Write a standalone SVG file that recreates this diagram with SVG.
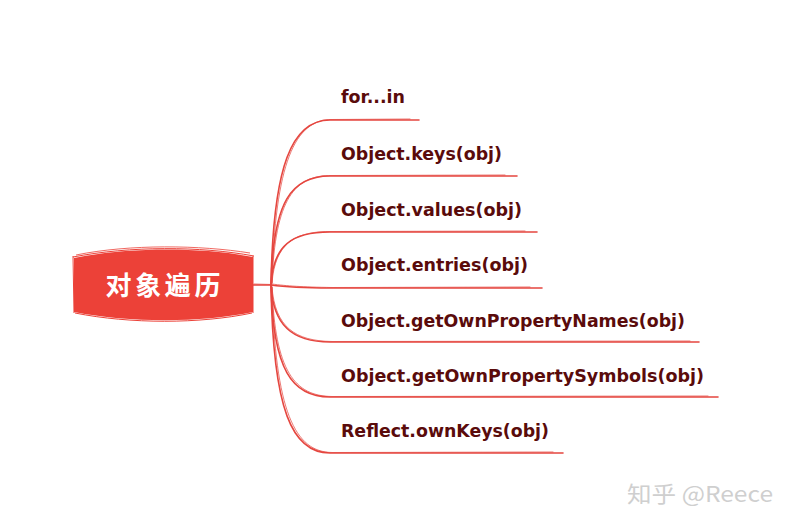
<svg xmlns="http://www.w3.org/2000/svg" width="793" height="528" viewBox="0 0 793 528">
<style>
.ln{fill:none;stroke:#e5463f;stroke-width:1.6;stroke-linecap:round}
.ln2{fill:none;stroke:#e5463f;stroke-width:0.9;stroke-linecap:round;opacity:0.8}
.lbl{font-family:"DejaVu Sans","Liberation Sans",sans-serif;font-weight:bold;font-size:18.5px;fill:#5a0b0b}
.root{font-family:"Noto Sans CJK SC","Noto Sans",sans-serif;font-weight:bold;font-size:26px;fill:#ffffff}
.wm{font-family:"Noto Sans CJK SC","Liberation Sans",sans-serif;font-size:22px;fill:#cfcfcf}
</style>
<rect width="793" height="528" fill="#ffffff"/>
<g id="connectors">
<path class="ln" d="M253,285 L271,285"/>
<path class="ln2" d="M254,284 L272,284.5"/>
<path class="ln" d="M271,285 C273,165 292,120 330,120 L419,120"/>
<path class="ln2" d="M272,283 C275,163 295,119 332,119.5 L410,119"/>
<path class="ln" d="M271,285 C273,200 292,176 330,176 L517,176"/>
<path class="ln2" d="M272,283 C275,198 295,175 332,175.5 L505,175"/>
<path class="ln" d="M271,285 C273,245 292,232 330,232 L537,232"/>
<path class="ln2" d="M272,283 C275,243 295,231 332,231.5 L525,231"/>
<path class="ln" d="M271,285 C285,287 300,288 330,288 L542,288"/>
<path class="ln2" d="M272,284 C287,286 302,287 332,287.5 L530,287"/>
<path class="ln" d="M271,285 C273,325 292,342 330,342 L699,342"/>
<path class="ln2" d="M272,287 C275,327 295,341 332,341.5 L690,341"/>
<path class="ln" d="M271,285 C273,370 292,397 330,397 L718,397"/>
<path class="ln2" d="M272,287 C275,372 295,396 332,396.5 L708,396"/>
<path class="ln" d="M271,285 C273,410 292,453 330,453 L563,453"/>
<path class="ln2" d="M272,287 C275,412 295,452 332,452.5 L553,452"/>
</g>
<g id="root">
<path d="M74,258 C130,247 200,247 253,257 L253,312 C200,323 130,323 74,312 Z" fill="#ec4138"/>
<path d="M73,257 C130,246 200,246 254,256 M75,313 C130,324 200,324 252,313 M73,256 L74,313 M253,256 L253,313" fill="none" stroke="#ec4138" stroke-width="1"/>
<path d="M76,255 C130,244 200,245 250,253" fill="none" stroke="#ec4138" stroke-width="0.8"/>
<text class="root" x="163" y="295" text-anchor="middle" textLength="115" lengthAdjust="spacing">对象遍历</text>
</g>
<g id="n1"><text class="lbl" x="341" y="103" textLength="64" lengthAdjust="spacingAndGlyphs">for...in</text></g>
<g id="n2"><text class="lbl" x="341" y="160" textLength="161" lengthAdjust="spacingAndGlyphs">Object.keys(obj)</text></g>
<g id="n3"><text class="lbl" x="341" y="216" textLength="181" lengthAdjust="spacingAndGlyphs">Object.values(obj)</text></g>
<g id="n4"><text class="lbl" x="341" y="271" textLength="187" lengthAdjust="spacingAndGlyphs">Object.entries(obj)</text></g>
<g id="n5"><text class="lbl" x="341" y="327" textLength="344" lengthAdjust="spacingAndGlyphs">Object.getOwnPropertyNames(obj)</text></g>
<g id="n6"><text class="lbl" x="341" y="382" textLength="363" lengthAdjust="spacingAndGlyphs">Object.getOwnPropertySymbols(obj)</text></g>
<g id="n7"><text class="lbl" x="341" y="437" textLength="208" lengthAdjust="spacingAndGlyphs">Reflect.ownKeys(obj)</text></g>
<text class="wm" x="627" y="502" textLength="146" lengthAdjust="spacingAndGlyphs">知乎 @Reece</text>
</svg>
